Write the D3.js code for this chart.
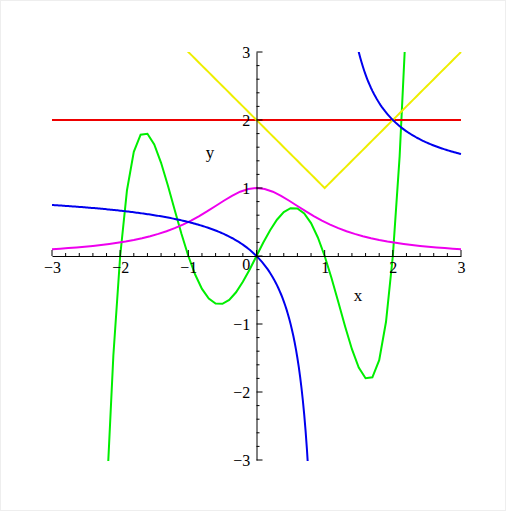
<!DOCTYPE html>
<html><head><script src="https://cdn.jsdelivr.net/npm/d3@7"></script>
<style>body{margin:0;background:#fff}</style></head>
<body><svg id="c" width="513" height="513"></svg>
<script>
const xTicks=[-3,-2,-1,0,1,2,3];
const yTicks=[-3,-2,-1,1,2,3];
const series=[
 {name:"green",color:"#00ee00",f:x=>x*(x*x-1)*(x*x-4)/2,step:0.1},
 {name:"red",color:"#ee0000",f:x=>2,step:0.1},
 {name:"yellow",color:"#eeee00",f:x=>Math.abs(x-1)+1,step:0.05},
 {name:"magenta",color:"#ee00ee",f:x=>1/(1+x*x),step:0.12},
 {name:"blue",color:"#0000ee",f:x=>x/(x-1),step:0.02}
];
const svg=d3.select("#c");
svg.append("rect").attr("x",0.5).attr("y",0.5).attr("width",505).attr("height",510).attr("fill","none").attr("stroke","#eee");
const x=d3.scaleLinear().domain([-3,3]).range([52,461]);
const y=d3.scaleLinear().domain([-3,3]).range([460,52]);
const g=svg.append("g");
g.append("clipPath").attr("id","cp").append("rect").attr("x",40).attr("y",52).attr("width",430).attr("height",409);
series.forEach(s=>{
  const pts=[];
  for(let i=0;i<=Math.round(6/s.step);i++){const xv=-3+i*s.step;pts.push([xv,s.f(xv)]);}
  const segs=[[]];
  pts.forEach(p=>{
    if(s.name==="blue"&&Math.abs(p[0]-1)<0.05){segs.push([]);return;}
    if(Math.abs(p[1])>6){segs.push([]);return;}
    segs[segs.length-1].push(p);
  });
  segs.filter(a=>a.length>1).forEach(a=>{
    g.append("path").attr("clip-path","url(#cp)").attr("d",d3.line().x(d=>x(d[0])).y(d=>y(d[1]))(a))
     .attr("fill","none").attr("stroke",s.color).attr("stroke-width",2);
  });
});
// axes
const ax=svg.append("g").attr("transform",`translate(0,${y(0)})`).call(d3.axisBottom(x).tickValues(xTicks).tickSize(0).tickFormat(d=>d===0?"":d3.format("")(d).replace("-","−")));
ax.select(".domain").attr("stroke","#000");
ax.selectAll("text").attr("font-family","Liberation Serif, serif").attr("font-size",16).attr("dy","0.9em");
const ay=svg.append("g").attr("transform",`translate(${x(0)},0)`).call(d3.axisLeft(y).tickValues(yTicks).tickSize(0).tickFormat(d=>d3.format("")(d).replace("-","−")));
ay.select(".domain").attr("stroke","#000");
ay.selectAll("text").attr("font-family","Liberation Serif, serif").attr("font-size",16).attr("dx","-0.2em");
// minor ticks
const minor=d3.range(-3,3.001,0.2);
minor.forEach(v=>{
  const major=Math.abs(v-Math.round(v))<1e-6;
  const L=major?6:3;
  svg.append("line").attr("x1",x(v)).attr("x2",x(v)).attr("y1",y(0)).attr("y2",y(0)-L).attr("stroke","#000");
  svg.append("line").attr("x1",x(0)).attr("x2",x(0)+L).attr("y1",y(v)).attr("y2",y(v)).attr("stroke","#000");
});
svg.append("text").attr("x",x(-0.15)).attr("y",y(-0.2)).attr("text-anchor","middle").attr("font-family","Liberation Serif, serif").attr("font-size",16).text("0");
svg.append("text").attr("x",358).attr("y",301).attr("text-anchor","middle").attr("font-family","Liberation Serif, serif").attr("font-size",17).text("x");
svg.append("text").attr("x",210).attr("y",158).attr("text-anchor","middle").attr("font-family","Liberation Serif, serif").attr("font-size",17).text("y");
</script></body></html>
